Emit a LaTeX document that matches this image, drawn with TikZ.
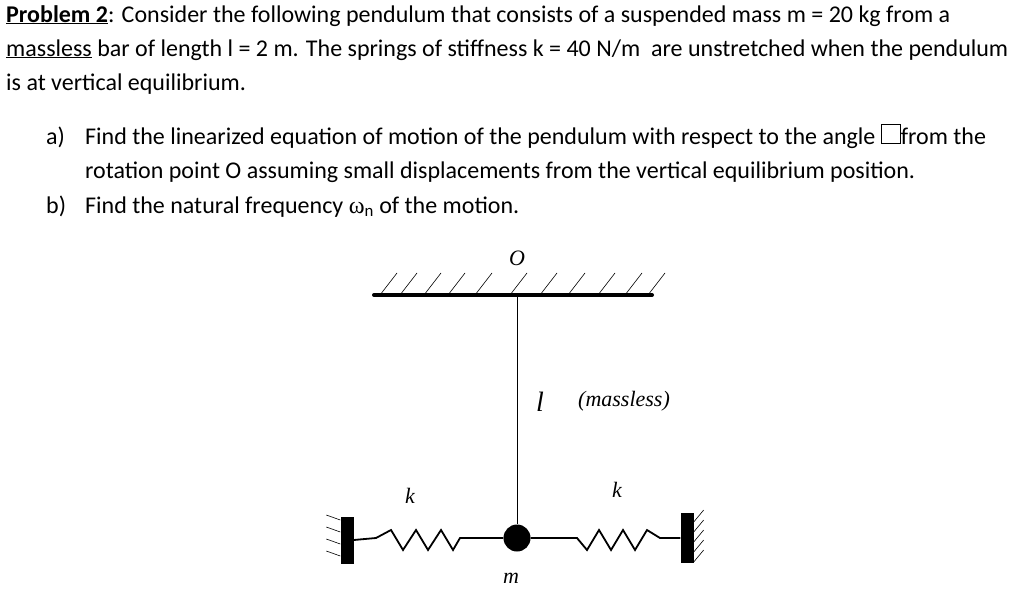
\documentclass[tikz,border=0pt]{standalone}
\usepackage{fontspec}
\setmainfont{Carlito}
\newfontfamily\mathserif{Liberation Serif}
\begin{document}
\begin{tikzpicture}[x=1pt,y=-1pt,
  txt/.style={anchor=base west,inner sep=0,font=\fontsize{24}{28}\selectfont},
  lbl/.style={inner sep=0,font=\mathserif\itshape\fontsize{22}{24}\selectfont},
  hatch/.style={line width=0.6pt},
  wire/.style={line width=1.8pt,line join=miter}]
\useasboundingbox (0,0) rectangle (1024,597);
\node[txt] (t1) at (6,22) {\underline{\textbf{Problem 2}}: Consider the following pendulum that consists of a suspended mass m = 20 kg from a};
\node[txt] (t2) at (6,56) {\underline{massless} bar of length l = 2 m. The springs of stiffness k = 40 N/m\ \ are unstretched when the pendulum};
\node[txt] (t3) at (6,90) {is at vertical equilibrium.};
\node[txt] (t4a) at (46,144) {a)};
\node[txt] (t4) at (85,144) {Find the linearized equation of motion of the pendulum with respect to the angle \hbox{\vrule width0.9pt\vbox{\hrule height0.9pt\hbox to 18pt{\vrule width0pt height18pt\hfil}\hrule height0.9pt}\vrule width0.9pt}from the};
\node[txt] (t5) at (85,178) {rotation point O assuming small displacements from the vertical equilibrium position.};
\node[txt] (t6a) at (46,213) {b)};
\node[txt] (t6) at (85,213) {Find the natural frequency {\mathserif ω}\textsubscript{n} of the motion.};
% ceiling
\draw[line width=4pt,line cap=round] (374,295) coordinate (cl) -- (652,295) coordinate (cr);
\foreach \x in {380,400,424,448,475,510,540,568,598,625,648}
  \draw[hatch] (\x,295) -- (\x+17,273);
\node[lbl] (O) at (517,258) {O};
% rod
\coordinate (piv) at (517,295);
\node[circle,fill=black,minimum size=27pt,inner sep=0] (m) at (517,538) {};
\draw[line width=1pt] (piv) -- (m);
\node[lbl,font=\mathserif\itshape\fontsize{28}{30}\selectfont] (l) at (540,402) {l};
\node[lbl] (ml) at (624,401) {(massless)};
% walls
\node[fill=black,minimum width=13pt,minimum height=47pt,inner sep=0] (wl) at (347,540) {};
\node[fill=black,minimum width=13pt,minimum height=50pt,inner sep=0] (wr) at (687,538) {};
\foreach \y in {520,532,544,556} \draw[hatch] (wl.west |- 0,\y) -- ++(-14,-5);
\foreach \y in {522,532,542,552,562} \draw[hatch] (wr.east |- 0,\y) -- ++(10,-12);
% springs
\draw[wire] (wl.east) -- (376,538) -- (391,530) -- (403,550) -- (416,530) -- (428,550) -- (441,530) -- (453,550) -- (460,538) -- (m.west);
\draw[wire] (m.east) -- (577,538) -- (587,550) -- (599,530) -- (611,550) -- (623,530) -- (635,550) -- (647,530) -- (660,538) -- (wr.west);
\node[lbl] (k1) at (410,496) {k};
\node[lbl] (k2) at (617,490) {k};
\node[lbl] (mm) at (511,578) {m};
\end{tikzpicture}
\end{document}
